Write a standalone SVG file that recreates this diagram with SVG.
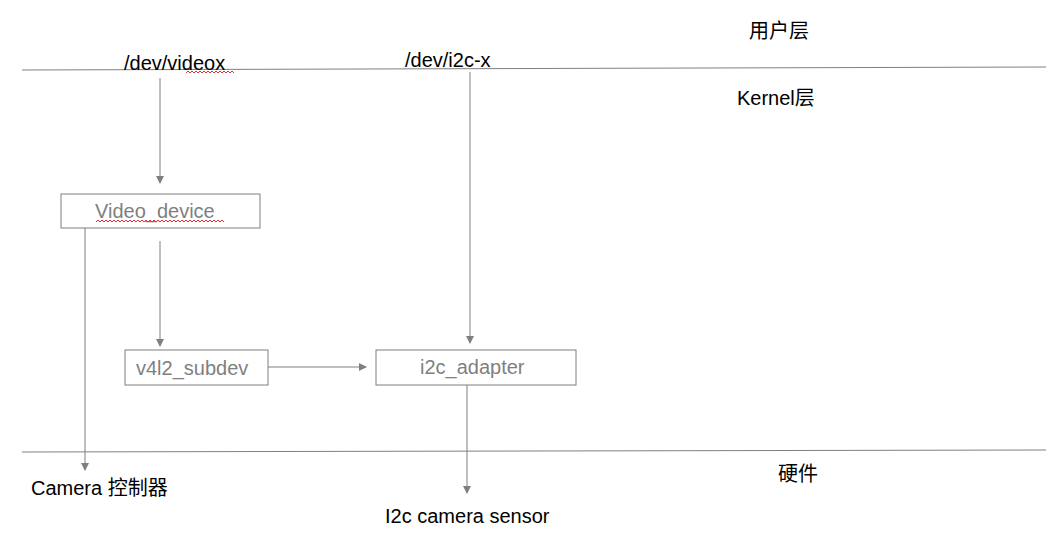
<svg xmlns="http://www.w3.org/2000/svg" width="1046" height="533" viewBox="0 0 1046 533">
<defs>
<marker id="ah" markerWidth="8" markerHeight="8" refX="7" refY="4" orient="auto" markerUnits="userSpaceOnUse"><path d="M0,0 L8,4 L0,8 Z" fill="#7f7f7f"/></marker>
<style>
.t{font-family:"Liberation Sans",Arial,"Noto Sans CJK SC",sans-serif;font-size:20px;fill:#000}
.g{font-family:"Liberation Sans",Arial,sans-serif;font-size:20px;fill:#7f7f7f}
.b{fill:#fff;stroke:#7f7f7f;stroke-width:1}
.c{stroke:#7f7f7f;stroke-width:1;fill:none}
.s{stroke:#7f7f7f;stroke-width:1;fill:none;marker-end:url(#ah)}
.w{stroke:#e03030;stroke-width:1;fill:none}
</style>
</defs>
<rect width="1046" height="533" fill="#fff"/>
<g id="layers">
<line class="c" x1="22" y1="70" x2="1046" y2="67"/>
<line class="c" x1="22" y1="452" x2="1046" y2="450"/>
<text class="t" x="749" y="38">用户层</text>
<text class="t" x="737" y="105">Kernel层</text>
<text class="t" x="778" y="481">硬件</text>
</g>
<g id="connectors">
<line class="s" x1="160" y1="78" x2="160" y2="183"/>
<line class="s" x1="470" y1="72" x2="470" y2="343"/>
<line class="s" x1="160" y1="241" x2="160" y2="346"/>
<line class="s" x1="268" y1="367" x2="366" y2="367"/>
<line class="s" x1="85" y1="228" x2="85" y2="470"/>
<line class="s" x1="467" y1="385" x2="467" y2="493"/>
</g>
<g id="n-videox"><text class="t" x="124" y="70">/dev/videox</text>
<path class="w" d="M186,73 l2,-2 l2,2 l2,-2 l2,2 l2,-2 l2,2 l2,-2 l2,2 l2,-2 l2,2 l2,-2 l2,2 l2,-2 l2,2 l2,-2 l2,2 l2,-2 l2,2 l2,-2 l2,2 l2,-2 l2,2 l2,-2 l2,2"/></g>
<g id="n-i2cx"><text class="t" x="405" y="67">/dev/i2c-x</text></g>
<g id="n-video_device"><rect class="b" x="61" y="194" width="199" height="34"/><text class="g" x="95" y="218">Video_device</text>
<path class="w" d="M96,222 l2,-2 l2,2 l2,-2 l2,2 l2,-2 l2,2 l2,-2 l2,2 l2,-2 l2,2 l2,-2 l2,2 l2,-2 l2,2 l2,-2 l2,2 l2,-2 l2,2 l2,-2 l2,2 l2,-2 l2,2 l2,-2 l2,2 l2,-2 l2,2 l2,-2 l2,2 l2,-2 l2,2 l2,-2 l2,2 l2,-2 l2,2 l2,-2 l2,2 l2,-2 l2,2 l2,-2 l2,2 l2,-2 l2,2 l2,-2 l2,2 l2,-2 l2,2 l2,-2 l2,2 l2,-2 l2,2 l2,-2 l2,2 l2,-2 l2,2 l2,-2 l2,2 l2,-2 l2,2 l2,-2 l2,2 l2,-2 l2,2 l2,-2 l2,2"/></g>
<g id="n-v4l2_subdev"><rect class="b" x="125" y="350" width="143" height="35"/><text class="g" x="136" y="375">v4l2_subdev</text></g>
<g id="n-i2c_adapter"><rect class="b" x="376" y="350" width="200" height="35"/><text class="g" x="420" y="374">i2c_adapter</text></g>
<g id="n-camera"><text class="t" x="31" y="495">Camera 控制器</text></g>
<g id="n-sensor"><text class="t" x="385" y="523">I2c camera sensor</text></g>
</svg>
